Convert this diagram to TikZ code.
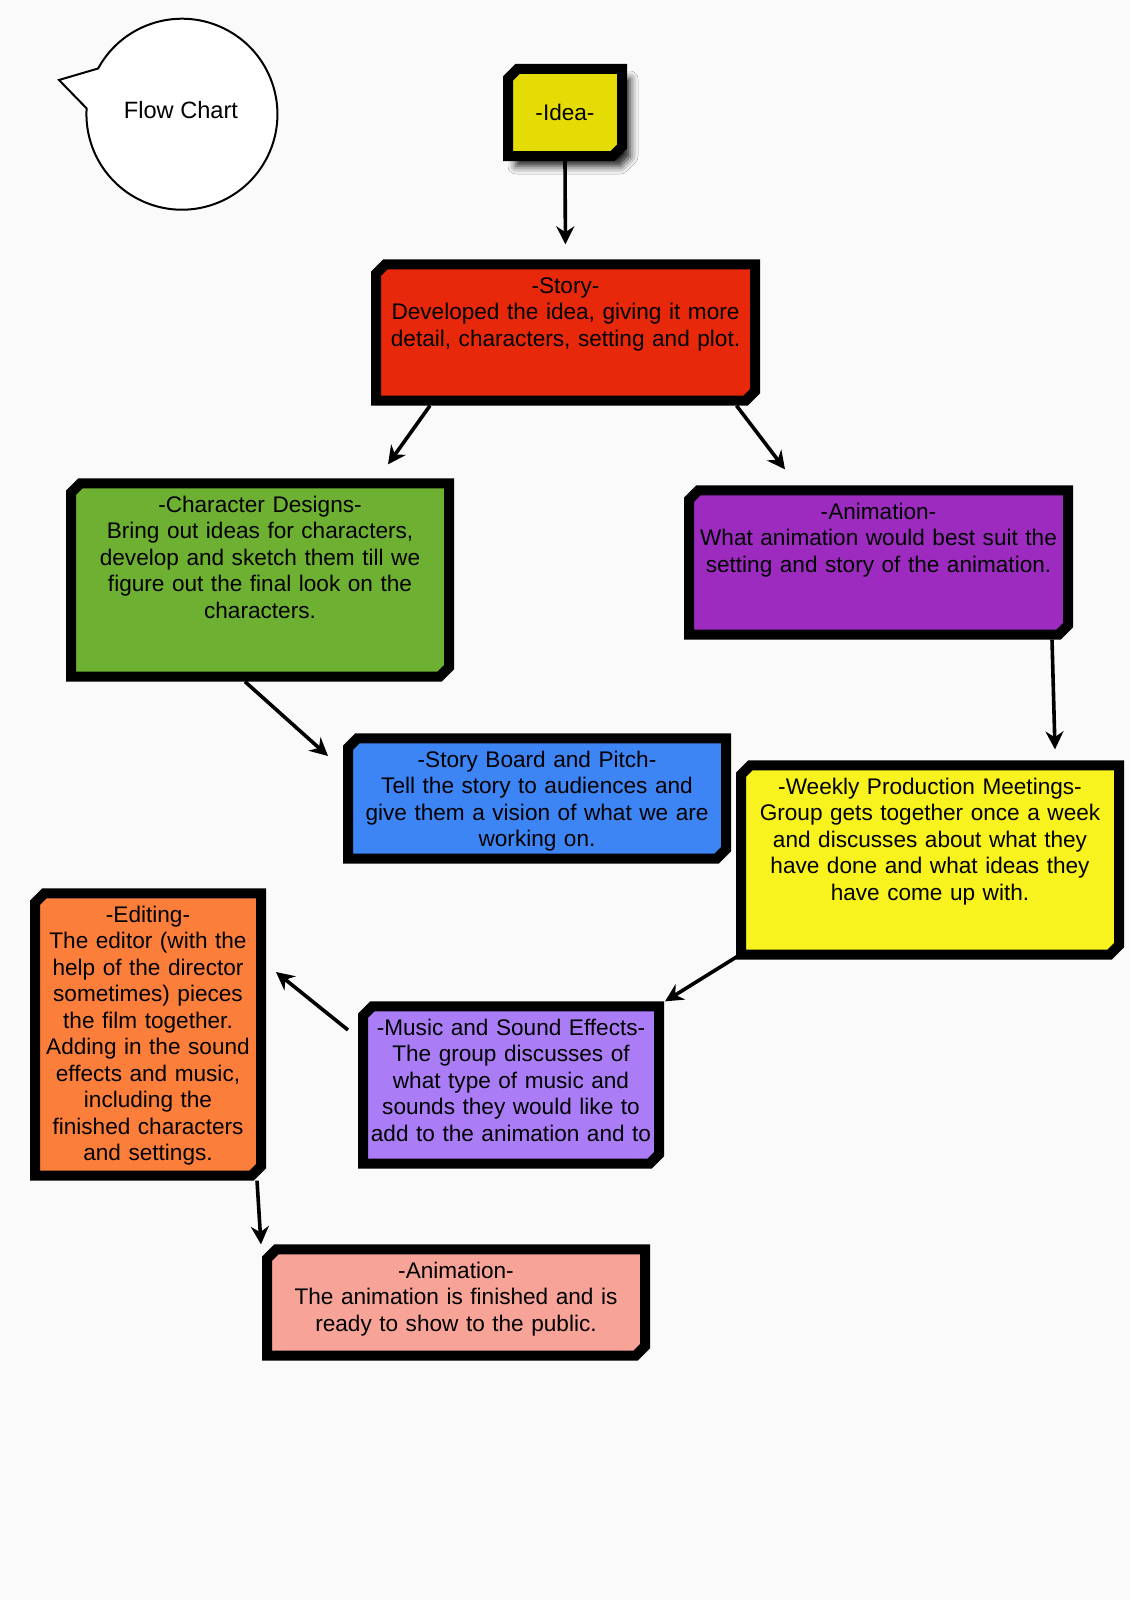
\documentclass[tikz,border=0pt]{standalone}
\usepackage{fontspec}
\setmainfont{Liberation Sans}
\usetikzlibrary{shapes.misc,arrows.meta,calc,shadows.blur}

\tikzset{every picture/.style={line width=0.75pt}}
\tikzset{
	stagebox/.style={draw=black, line width=5pt, chamfered rectangle, chamfered rectangle corners={north west,south east}, chamfered rectangle xsep=1.2pt, inner xsep=2pt, inner ysep=3pt, align=center, text height=8pt, font=\fontsize{11.3}{13.25}\selectfont},
	flowarrow/.style={line width=1.8pt, -{Stealth[length=9pt,width=9pt]}},
}

\begin{document}
\begin{tikzpicture}[x=0.5pt,y=-0.5pt]
	%set diagram 1130 x 1600
	\useasboundingbox (0,0) rectangle (1130,1600);
	\fill [fill={rgb, 255:red, 250; green, 250; blue, 250 }] (0,0) rectangle (1130,1600);

	%Shape: Speech bubble [Flow Chart]
	\draw [line width=1pt, fill=white] (98.1,68.5) arc [start angle=-151.4, end angle=183.5, radius=95.5] -- (59,80) -- cycle ;
	\node [font=\fontsize{11.8}{14}\selectfont] (bubbletext) at (181,110) {Flow Chart};

	%Shape: Square [Idea]
	\node [stagebox, blur shadow={shadow xshift=4pt, shadow yshift=-5pt, shadow blur radius=4pt, shadow opacity=90}, fill={rgb, 255:red, 230; green, 220; blue, 5 }, minimum width=57pt, minimum height=43.5pt, text width=50pt, text height=7.5pt, text depth=0pt] (idea) at (565,112.5) {-Idea-};
	%Shape: Rectangle [Story]
	\node [stagebox, fill={rgb, 255:red, 232; green, 40; blue, 10 }, minimum width=189.5pt, minimum height=67.5pt, text width=183.1pt, text depth=47.1pt] (story) at (565.5,332.5) {-Story-\\Developed the idea, giving it more\\detail, characters, setting and plot.};
	%Shape: Rectangle [Character Designs]
	\node [stagebox, fill={rgb, 255:red, 110; green, 177; blue, 50 }, minimum width=189pt, minimum height=96pt, text width=182.6pt, text depth=75.6pt] (char) at (260,580) {-Character Designs-\\Bring out ideas for characters,\\develop and sketch them till we\\figure out the final look on the\\characters.};
	%Shape: Rectangle [Animation]
	\node [stagebox, fill={rgb, 255:red, 157; green, 43; blue, 192 }, minimum width=189.5pt, minimum height=71.5pt, text width=183.1pt, text depth=51.1pt] (anim) at (878.5,562.5) {-Animation-\\What animation would best suit the\\setting and story of the animation.};
	%Shape: Rectangle [Story Board]
	\node [stagebox, fill={rgb, 255:red, 61; green, 132; blue, 245 }, minimum width=189pt, minimum height=59.5pt, text width=182.6pt, text depth=39.1pt] (board) at (537,798.5) {-Story Board and Pitch-\\Tell the story to audiences and\\give them a vision of what we are\\working on.};
	%Shape: Rectangle [Weekly Meetings]
	\node [stagebox, fill={rgb, 255:red, 248; green, 242; blue, 30 }, minimum width=189pt, minimum height=94pt, text width=182.6pt, text depth=73.6pt] (weekly) at (930,860) {-Weekly Production Meetings-\\Group gets together once a week\\and discusses about what they\\have done and what ideas they\\have come up with.};
	%Shape: Rectangle [Music]
	\node [stagebox, fill={rgb, 255:red, 170; green, 125; blue, 247 }, minimum width=148pt, minimum height=78pt, text width=141.6pt, text depth=57.6pt] (music) at (511,1085) {-Music and Sound Effects-\\The group discusses of\\what type of music and\\sounds they would like to\\add to the animation and to};
	%Shape: Rectangle [Editing]
	\node [stagebox, fill={rgb, 255:red, 252; green, 126; blue, 59 }, minimum width=113pt, minimum height=140.5pt, text width=106.6pt, text depth=120.1pt] (edit) at (148,1034.5) {-Editing-\\The editor (with the\\help of the director\\sometimes) pieces\\the film together.\\Adding in the sound\\effects and music,\\including the\\finished characters\\and settings.};
	%Shape: Rectangle [Final Animation]
	\node [stagebox, fill={rgb, 255:red, 247; green, 163; blue, 152 }, minimum width=189pt, minimum height=52.5pt, text width=182.6pt, text depth=32.1pt] (final) at (456,1302.5) {-Animation-\\The animation is finished and is\\ready to show to the public.};

	%Straight Lines [arrows]
	\draw [flowarrow, shorten >=7.5pt] (idea.south) -- (story.north) ;
	\draw [flowarrow] ($(story.south)+(-135.5,0)$) -- ($(char.north)+(128,-14)$) ;
	\draw [flowarrow] ($(story.south)+(171,0)$) -- ($(anim.north)+(-93.5,-16)$) ;
	\draw [flowarrow] ($(char.south)+(-15,0)$) -- ($(board.west)+(-15,-42.5)$) ;
	\draw [flowarrow] ($(anim.south)+(173.5,0)$) -- ($(weekly.north)+(125,-11)$) ;
	\draw [flowarrow] ($(weekly.south)+(-193,-3)$) -- ($(music.north)+(154,0)$) ;
	\draw [flowarrow] ($(music.west)+(-10,-55)$) -- ($(edit.east)+(10,-62.5)$) ;
	\draw [flowarrow] ($(edit.south)+(109,0)$) -- ($(final.north)+(-195,0)$) ;

\end{tikzpicture}
\end{document}
